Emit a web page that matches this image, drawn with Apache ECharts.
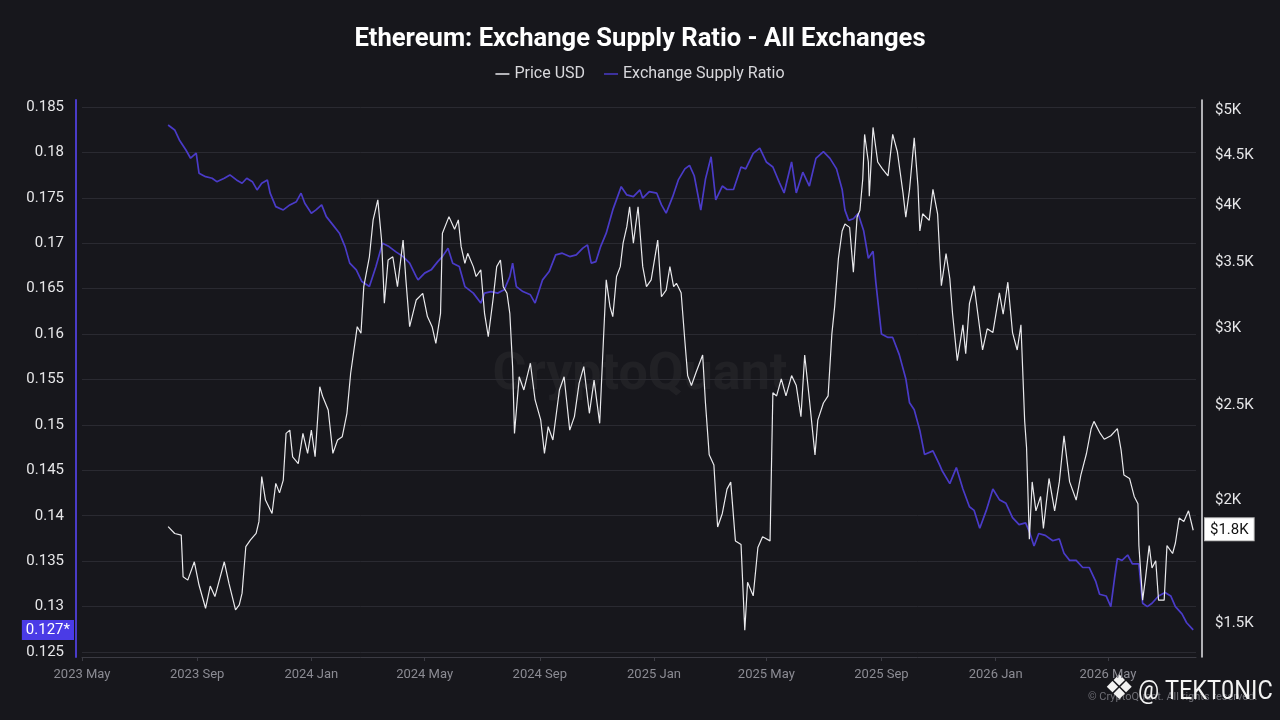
<!DOCTYPE html>
<html>
<head>
<meta charset="utf-8">
<script src="https://cdn.jsdelivr.net/npm/echarts@6/dist/echarts.min.js"></script>
<style>
html,body{margin:0;padding:0;background:#17171c;}
#chart{width:1280px;height:720px;}
</style>
</head>
<body>
<div id="chart"></div>
<script>
const titleText = 'Ethereum: Exchange Supply Ratio - All Exchanges';
const seriesNames = ['Price USD', 'Exchange Supply Ratio'];

const xTickDates = ['2023-05-01','2023-09-01','2024-01-01','2024-05-01','2024-09-01','2025-01-01','2025-05-01','2025-09-01','2026-01-01','2026-05-01'];
const ratioTicks = [0.125,0.13,0.135,0.14,0.145,0.15,0.155,0.16,0.165,0.17,0.175,0.18,0.185];
const priceTicks = [1500,2000,2500,3000,3500,4000,4500,5000];

const priceDates = ['2023-08-01','2023-08-08','2023-08-15','2023-08-17','2023-08-22','2023-08-29','2023-09-03','2023-09-10','2023-09-15','2023-09-20','2023-09-30','2023-10-05','2023-10-12','2023-10-16','2023-10-19','2023-10-23','2023-10-28','2023-11-03','2023-11-06','2023-11-09','2023-11-13','2023-11-20','2023-11-24','2023-11-28','2023-12-02','2023-12-05','2023-12-09','2023-12-12','2023-12-18','2023-12-23','2023-12-28','2024-01-01','2024-01-05','2024-01-10','2024-01-13','2024-01-19','2024-01-24','2024-01-29','2024-02-03','2024-02-08','2024-02-12','2024-02-15','2024-02-19','2024-02-23','2024-02-26','2024-03-03','2024-03-07','2024-03-12','2024-03-16','2024-03-19','2024-03-23','2024-03-28','2024-04-02','2024-04-08','2024-04-11','2024-04-15','2024-04-22','2024-04-29','2024-05-04','2024-05-09','2024-05-13','2024-05-18','2024-05-20','2024-05-27','2024-06-02','2024-06-06','2024-06-09','2024-06-13','2024-06-16','2024-06-22','2024-06-25','2024-06-30','2024-07-04','2024-07-08','2024-07-13','2024-07-17','2024-07-21','2024-07-24','2024-07-28','2024-07-31','2024-08-03','2024-08-05','2024-08-10','2024-08-15','2024-08-22','2024-08-27','2024-09-02','2024-09-06','2024-09-10','2024-09-15','2024-09-22','2024-09-27','2024-10-03','2024-10-08','2024-10-13','2024-10-18','2024-10-24','2024-10-29','2024-11-04','2024-11-08','2024-11-11','2024-11-15','2024-11-18','2024-11-22','2024-11-26','2024-11-29','2024-12-03','2024-12-06','2024-12-10','2024-12-15','2024-12-20','2024-12-24','2024-12-29','2025-01-05','2025-01-09','2025-01-14','2025-01-18','2025-01-22','2025-01-25','2025-01-30','2025-02-03','2025-02-06','2025-02-10','2025-02-15','2025-02-22','2025-02-25','2025-03-01','2025-03-06','2025-03-10','2025-03-15','2025-03-20','2025-03-24','2025-03-29','2025-04-04','2025-04-08','2025-04-11','2025-04-17','2025-04-22','2025-04-27','2025-05-05','2025-05-08','2025-05-12','2025-05-17','2025-05-22','2025-05-28','2025-06-02','2025-06-07','2025-06-11','2025-06-16','2025-06-22','2025-06-25','2025-07-01','2025-07-06','2025-07-10','2025-07-13','2025-07-17','2025-07-21','2025-07-24','2025-07-29','2025-08-02','2025-08-06','2025-08-09','2025-08-12','2025-08-14','2025-08-18','2025-08-19','2025-08-23','2025-08-28','2025-09-02','2025-09-08','2025-09-13','2025-09-18','2025-09-24','2025-09-27','2025-10-01','2025-10-06','2025-10-10','2025-10-12','2025-10-15','2025-10-22','2025-10-26','2025-10-31','2025-11-04','2025-11-09','2025-11-13','2025-11-16','2025-11-21','2025-11-27','2025-11-30','2025-12-04','2025-12-09','2025-12-13','2025-12-18','2025-12-23','2025-12-29','2026-01-05','2026-01-09','2026-01-14','2026-01-19','2026-01-24','2026-01-28','2026-02-01','2026-02-03','2026-02-06','2026-02-09','2026-02-13','2026-02-18','2026-02-21','2026-02-27','2026-03-05','2026-03-10','2026-03-15','2026-03-21','2026-03-28','2026-04-02','2026-04-08','2026-04-13','2026-04-16','2026-04-22','2026-04-27','2026-05-04','2026-05-11','2026-05-15','2026-05-18','2026-05-24','2026-05-29','2026-06-02','2026-06-03','2026-06-07','2026-06-10','2026-06-14','2026-06-17','2026-06-21','2026-06-24','2026-06-30','2026-07-03','2026-07-09','2026-07-12','2026-07-16','2026-07-21','2026-07-26','2026-07-31'];
const priceValues = [1882,1852,1845,1673,1660,1733,1641,1554,1637,1597,1733,1647,1548,1566,1610,1796,1824,1852,1904,2116,2003,1941,2083,2037,2099,2342,2360,2217,2182,2342,2235,2360,2217,2613,2555,2474,2235,2306,2324,2455,2697,2826,3008,2962,3304,3544,3864,4050,3686,3178,3517,3544,3304,3686,3357,3008,3202,3253,3080,3008,2893,3104,3745,3894,3780,3864,3629,3490,3573,3463,3384,3437,3104,2939,3202,3463,3517,3304,3253,3104,2739,2342,2675,2593,2761,2533,2417,2235,2379,2306,2593,2675,2360,2436,2634,2739,2455,2654,2398,2915,3357,3153,3080,3384,3463,3659,3803,3985,3659,3985,3463,3304,3357,3686,3227,3277,3463,3304,3330,3257,2909,2682,2620,2703,2815,2515,2227,2175,1880,1941,2055,2089,1820,1805,1476,1652,1600,1792,1838,1820,2576,2557,2661,2557,2682,2620,2435,2815,2537,2227,2416,2515,2557,2956,3153,3530,3765,3827,3797,3418,3890,3953,4251,4722,4426,4085,4800,4426,4355,4285,4722,4534,4117,3890,4150,4684,4183,3765,3920,3860,4151,3916,3311,3570,3368,3097,2777,3021,2824,3176,3311,3097,2848,2993,2967,3257,3097,3339,2967,2848,3021,2409,2265,1827,2090,1953,2020,1874,2107,1953,2090,2329,2090,2003,2124,2234,2368,2409,2348,2310,2329,2368,2252,2124,2107,2020,1986,1800,1584,1666,1800,1708,1737,1584,1584,1800,1767,1811,1920,1905,1953,1866];

const ratioDates = ['2023-08-01','2023-08-08','2023-08-13','2023-08-20','2023-08-25','2023-08-31','2023-09-03','2023-09-10','2023-09-17','2023-09-22','2023-09-30','2023-10-06','2023-10-13','2023-10-19','2023-10-24','2023-10-30','2023-11-04','2023-11-09','2023-11-15','2023-11-18','2023-11-24','2023-12-02','2023-12-09','2023-12-16','2023-12-21','2023-12-25','2024-01-01','2024-01-06','2024-01-12','2024-01-17','2024-01-24','2024-01-31','2024-02-06','2024-02-11','2024-02-18','2024-02-24','2024-03-03','2024-03-10','2024-03-17','2024-03-24','2024-03-31','2024-04-08','2024-04-15','2024-04-22','2024-04-24','2024-05-01','2024-05-08','2024-05-15','2024-05-20','2024-05-26','2024-05-31','2024-06-07','2024-06-13','2024-06-22','2024-06-30','2024-07-04','2024-07-11','2024-07-18','2024-07-25','2024-07-31','2024-08-03','2024-08-07','2024-08-14','2024-08-22','2024-08-27','2024-09-04','2024-09-11','2024-09-18','2024-09-25','2024-10-03','2024-10-10','2024-10-17','2024-10-22','2024-10-26','2024-10-31','2024-11-05','2024-11-11','2024-11-18','2024-11-27','2024-12-03','2024-12-10','2024-12-17','2024-12-20','2024-12-27','2025-01-04','2025-01-09','2025-01-14','2025-01-21','2025-01-27','2025-02-03','2025-02-08','2025-02-13','2025-02-20','2025-02-25','2025-03-03','2025-03-08','2025-03-15','2025-03-20','2025-03-27','2025-04-04','2025-04-09','2025-04-17','2025-04-24','2025-05-01','2025-05-08','2025-05-15','2025-05-20','2025-05-28','2025-06-02','2025-06-09','2025-06-16','2025-06-23','2025-07-01','2025-07-08','2025-07-15','2025-07-21','2025-07-24','2025-07-28','2025-08-02','2025-08-07','2025-08-13','2025-08-18','2025-08-23','2025-08-26','2025-09-01','2025-09-08','2025-09-13','2025-09-20','2025-09-27','2025-10-01','2025-10-06','2025-10-12','2025-10-17','2025-10-26','2025-11-02','2025-11-05','2025-11-13','2025-11-20','2025-11-27','2025-12-04','2025-12-09','2025-12-15','2025-12-22','2025-12-29','2026-01-05','2026-01-12','2026-01-19','2026-01-26','2026-02-02','2026-02-06','2026-02-11','2026-02-16','2026-02-23','2026-03-03','2026-03-10','2026-03-15','2026-03-21','2026-03-28','2026-04-04','2026-04-11','2026-04-18','2026-04-22','2026-04-29','2026-05-04','2026-05-08','2026-05-11','2026-05-16','2026-05-22','2026-05-27','2026-06-03','2026-06-07','2026-06-12','2026-06-17','2026-06-24','2026-07-01','2026-07-07','2026-07-12','2026-07-19','2026-07-24','2026-07-31'];
const ratioValues = [0.18302,0.18247,0.18137,0.18027,0.17936,0.17991,0.17771,0.17733,0.17716,0.17678,0.17716,0.17752,0.17697,0.17661,0.17716,0.17678,0.17587,0.17661,0.17697,0.17551,0.17403,0.17367,0.17422,0.17458,0.17551,0.17441,0.17331,0.17367,0.17422,0.17293,0.17202,0.17111,0.16963,0.16781,0.16707,0.16578,0.16523,0.16743,0.16999,0.16963,0.16908,0.16853,0.16781,0.16633,0.16597,0.16671,0.16707,0.16798,0.16853,0.16946,0.16781,0.16743,0.16523,0.16451,0.16341,0.16451,0.16468,0.16451,0.16487,0.16633,0.16781,0.16523,0.16468,0.16432,0.16341,0.16597,0.16688,0.16872,0.16891,0.16853,0.16872,0.16946,0.16982,0.16781,0.16798,0.16963,0.17111,0.17367,0.17623,0.17532,0.17513,0.17587,0.17496,0.17568,0.17551,0.17422,0.17331,0.17513,0.17697,0.17819,0.17858,0.17743,0.17365,0.17706,0.17952,0.17478,0.17630,0.17592,0.17592,0.17839,0.17819,0.17990,0.18047,0.17895,0.17839,0.17668,0.17554,0.17895,0.17554,0.17782,0.17630,0.17934,0.18008,0.17934,0.17819,0.17592,0.17365,0.17252,0.17270,0.17327,0.17137,0.16835,0.16911,0.16570,0.16001,0.15963,0.15963,0.15774,0.15509,0.15244,0.15168,0.14940,0.14675,0.14714,0.14562,0.14492,0.14354,0.14530,0.14295,0.14099,0.14059,0.13862,0.14059,0.14295,0.14177,0.14137,0.13980,0.13902,0.13922,0.13824,0.13667,0.13804,0.13784,0.13725,0.13745,0.13587,0.13509,0.13509,0.13430,0.13430,0.13274,0.13136,0.13117,0.12999,0.13312,0.13529,0.13509,0.13568,0.13470,0.13470,0.13037,0.12999,0.13037,0.13117,0.13155,0.13117,0.12999,0.12920,0.12822,0.12743];

const MONTHS = ['Jan','Feb','Mar','Apr','May','Jun','Jul','Aug','Sep','Oct','Nov','Dec'];
const toTs = s => { const p = s.split('-').map(Number); return Date.UTC(p[0], p[1]-1, p[2]); };

const chart = echarts.init(document.getElementById('chart'), null, {renderer:'canvas'});
const FONT = 'Roboto, "Noto Sans", sans-serif';
const lastRatio = ratioValues[ratioValues.length-1];
const lastPrice = priceValues[priceValues.length-1];

chart.setOption({
  backgroundColor: '#17171c',
  animation: false,
  textStyle: {fontFamily: FONT},
  title: {
    text: titleText, left: 'center', top: 22,
    textStyle: {color: '#ffffff', fontSize: 25.6, fontWeight: 'bold', fontFamily: FONT}
  },
  legend: {
    top: 61, left: 'center', itemGap: 19, itemWidth: 14, itemHeight: 1.5, icon: 'rect',
    textStyle: {color: '#d8d8dc', fontSize: 16, fontFamily: FONT},
    data: seriesNames
  },
  grid: {left: 82, right: 84, top: 100, bottom: 63, containLabel: false},
  xAxis: {
    type: 'value',
    min: toTs('2023-05-01'), max: toTs('2026-08-03'),
    axisLine: {show: true, lineStyle: {color: '#3b3b43', width: 1}},
    axisTick: {show: true, length: 4, lineStyle: {color: '#3b3b43'}, customValues: xTickDates.map(toTs)},
    axisLabel: {
      customValues: xTickDates.map(toTs), color: '#8b8b93', fontSize: 13, margin: 11,
      formatter: v => { const d = new Date(v); return d.getUTCFullYear() + ' ' + MONTHS[d.getUTCMonth()]; }
    },
    splitLine: {show: false}
  },
  yAxis: [
    {
      type: 'value', position: 'left', offset: 6,
      min: 0.12444954, max: 0.18577064,
      axisLine: {show: true, lineStyle: {color: '#4a3bc8', width: 2}},
      axisTick: {show: false, customValues: ratioTicks},
      axisLabel: {customValues: ratioTicks, color: '#e6e6e8', fontSize: 15, margin: 12,
        formatter: v => String(+v.toFixed(3))},
      splitLine: {show: true, lineStyle: {color: '#2a2a31', width: 1}}
    },
    {
      type: 'log', logBase: 10, position: 'right', offset: 6,
      min: 1386.1, max: 5119.2,
      axisLine: {show: true, lineStyle: {color: '#e6e6e8', width: 1.5}},
      axisTick: {show: false, customValues: priceTicks},
      axisLabel: {customValues: priceTicks, color: '#e6e6e8', fontSize: 15, margin: 13,
        formatter: v => '$' + (Math.round(v/100)/10) + 'K'},
      splitLine: {show: false}
    }
  ],
  series: [
    {
      name: seriesNames[0], type: 'line', yAxisIndex: 1, z: 3,
      showSymbol: false, symbol: 'none',
      lineStyle: {color: '#e9e9ec', width: 1.2},
      itemStyle: {color: '#e9e9ec'},
      data: priceDates.map((d, i) => [toTs(d), priceValues[i]])
    },
    {
      name: seriesNames[1], type: 'line', yAxisIndex: 0, z: 2,
      showSymbol: false, symbol: 'none',
      lineStyle: {color: '#4a3bc8', width: 1.7},
      itemStyle: {color: '#4a3bc8'},
      data: ratioDates.map((d, i) => [toTs(d), ratioValues[i]])
    }
  ],
  graphic: [
    {type: 'text', left: 'center', top: 350, z: 0, silent: true,
      style: {text: 'CryptoQuant', fill: 'rgba(255,255,255,0.045)', font: 'bold 52px ' + FONT}},
    {type: 'text', left: 1088, top: 692, silent: true,
      style: {text: '© CryptoQuant. All rights reserved.', fill: '#6f6f76', font: '11px ' + FONT}},
    {type: 'text', left: 1104, top: 673, silent: true,
      style: {text: '❖', fill: '#f2f2f2', font: '34px "DejaVu Sans"'}},
    {type: 'text', left: 1138, top: 680, scaleX: 0.94, silent: true,
      style: {text: '@ TEKT0NIC', fill: '#f2f2f2', font: '25px ' + FONT}}
  ]
});

// current-value tags placed on the axes through the library's own scales
const ratioPx = chart.convertToPixel({yAxisIndex: 0}, lastRatio);
const pricePx = chart.convertToPixel({yAxisIndex: 1}, lastPrice);
chart.setOption({
  graphic: [
    {type: 'text', id: 'ratioTag', right: 1280 - 74, top: ratioPx - 10, z: 10, silent: true,
      style: {text: lastRatio.toFixed(3) + '*', fill: '#ffffff', font: '15px ' + FONT,
        backgroundColor: '#4a3be6', padding: [3, 4, 2, 4]}},
    {type: 'text', id: 'priceTag', left: 1204, top: pricePx - 13, z: 10, silent: true,
      style: {text: '$' + (Math.floor(lastPrice/100)/10).toFixed(1) + 'K', fill: '#111111', font: '15px ' + FONT,
        backgroundColor: '#ffffff', borderColor: '#bbbbbb', borderWidth: 1, padding: [4, 5, 3, 5]}}
  ]
});
</script>
</body>
</html>
